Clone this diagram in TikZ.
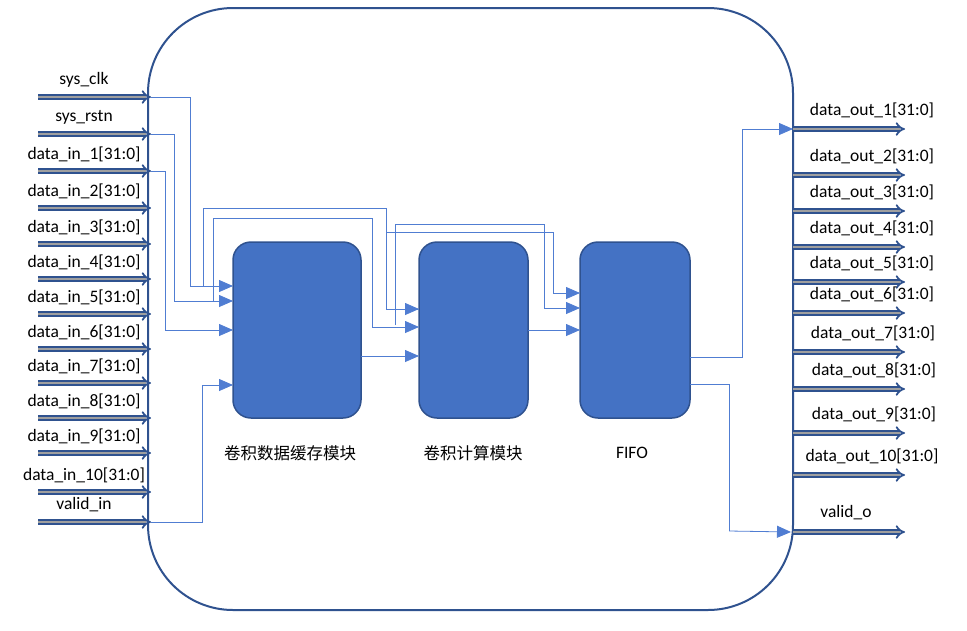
\documentclass[tikz,border=0pt]{standalone}
\usepackage{fontspec}
\setmainfont{Carlito}
\newfontfamily\cjk{Noto Sans CJK SC}
\usetikzlibrary{arrows.meta}
\definecolor{bdark}{RGB}{47,82,143}
\definecolor{bfill}{RGB}{68,114,196}
\definecolor{wire}{RGB}{80,125,210}
\tikzset{
  bus/.style={draw=bdark, double=gray!75, double distance=2.6pt, line width=1.8pt, -Implies},
  wirel/.style={draw=wire, line width=0.8pt},
  wirea/.style={draw=wire, line width=0.8pt, -{Triangle[length=14pt,width=12pt]}},
  blk/.style={draw=bdark, line width=1.5pt, fill=bfill, rounded corners=18pt},
  lbl/.style={font=\fontsize{17.5}{19}\selectfont, inner sep=0pt},
  clbl/.style={font=\cjk\fontsize{16.5}{18}\selectfont, inner sep=0pt}
}
\begin{document}
\begin{tikzpicture}[x=1pt,y=-1pt]
\useasboundingbox (0,0) rectangle (967,630);
\draw[bdark, line width=2pt, rounded corners=85pt] (148,8) rectangle (793,610);
\path[blk] (233,242) rectangle (361,418);
\path[blk] (419,242) rectangle (528,418);
\path[blk] (580,242) rectangle (690,418);
\node[clbl] (l1) at (290,453) {卷积数据缓存模块};
\node[clbl] (l2) at (473,453) {卷积计算模块};
\node[lbl] (l3) at (632,453) {FIFO};
% inputs
\foreach \n/\y/\t in {1/97/sys\_clk,2/134/sys\_rstn,3/171/data\_in\_1[31:0],4/208/data\_in\_2[31:0],5/244/data\_in\_3[31:0],6/279/data\_in\_4[31:0],7/314/data\_in\_5[31:0],8/349/data\_in\_6[31:0],9/383/data\_in\_7[31:0],10/418/data\_in\_8[31:0],11/453/data\_in\_9[31:0],12/492/data\_in\_10[31:0],13/522/valid\_in}{
  \coordinate (is\n) at (38,\y);
  \coordinate (ie\n) at (151,\y);
  \draw[bus] (is\n) -- (ie\n);
  \node[lbl] (il\n) at (84,\y-17) {\t};
}
% outputs
\foreach \n/\y/\t in {1/129/data\_out\_1[31:0],2/175/data\_out\_2[31:0],3/211/data\_out\_3[31:0],4/247/data\_out\_4[31:0],5/282/data\_out\_5[31:0],6/313/data\_out\_6[31:0],7/352/data\_out\_7[31:0],8/389/data\_out\_8[31:0],9/433/data\_out\_9[31:0],10/475/data\_out\_10[31:0],11/532/valid\_o}{
  \coordinate (os\n) at (793,\y);
  \coordinate (oe\n) at (905,\y);
  \draw[bus] (os\n) -- (oe\n);
}
\foreach \n/\y/\x/\t in {1/129/872/data\_out\_1[31:0],2/175/872/data\_out\_2[31:0],3/211/872/data\_out\_3[31:0],4/247/872/data\_out\_4[31:0],5/282/872/data\_out\_5[31:0],6/313/872/data\_out\_6[31:0],7/352/873/data\_out\_7[31:0],8/389/874/data\_out\_8[31:0],9/433/874/data\_out\_9[31:0],10/475/872/data\_out\_10[31:0],11/532/846/valid\_o}{
  \node[lbl] (ol\n) at (\x,\y-19) {\t};
}
% wires
\draw[wirea] (ie1) -| (190,286) -- (233,286);
\draw[wirel] (203,286) |- (386,208) |- (419,309);
\draw[wirea] (386,309) -- (419,309);
\draw[wirea] (ie2) -| (174,301) -- (233,301);
\draw[wirel] (213,301) |- (372,218) |- (405,327);
\draw[wirea] (372,327) -- (419,327);
\draw[wirea] (ie3) -| (165,330) -- (233,330);
\draw[wirea] (ie13) -| (202,385) -- (233,385);
\draw[wirel] (386,232) -| (553,293);
\draw[wirea] (553,293) -- (580,293);
\draw[wirel] (395,325) |- (544,224) -- (544,308);
\draw[wirea] (544,308) -- (580,308);
\draw[wirea] (361,356) -- (419,356);
\draw[wirea] (528,330) -- (580,330);
\draw[wirel] (690,357) -| (742,129);
\draw[wirea] (742,129) -- (os1);
\draw[wirel] (690,384) -| (729,531);
\draw[wirea] (729,531) -- (791,532);
\end{tikzpicture}
\end{document}
